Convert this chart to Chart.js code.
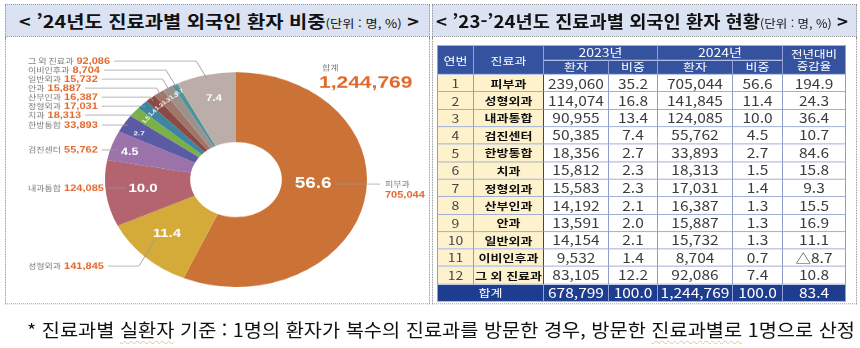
<!DOCTYPE html>
<html lang="ko">
<head>
<meta charset="utf-8">
<script src="https://cdn.jsdelivr.net/npm/chart.js@4.4.1/dist/chart.umd.min.js"></script>
<style>
  html, body { margin: 0; padding: 0; background: #fff; width: 860px; height: 348px; overflow: hidden; }
  #page { position: absolute; left: 0; top: 0; width: 860px; height: 424px; transform: scaleY(0.82); transform-origin: 0 0;
          font-family: "Noto Sans CJK KR", "Noto Sans", sans-serif; color: #111; }
  .hd { position: absolute; top: 5px; height: 40px; background: #dbe3f2; border: 1px dotted #8a8a8a; box-sizing: border-box; overflow: hidden; }
  .hd .t { position: absolute; top: 0; height: 38px; line-height: 38px; white-space: nowrap; transform-origin: 0 50%; }
  .hd b { font-size: 21px; font-weight: 700; }
  .hd span { font-size: 14px; font-weight: 400; }
  .box { position: absolute; top: 45px; height: 326px; border: 1px dotted #8a8a8a; border-top: none; box-sizing: border-box; }
  #chartWrap { position: absolute; left: 0; top: 45px; width: 430px; height: 326px; }
  #tbl { position: absolute; left: 437px; top: 55px; width: 408px; border-collapse: collapse; table-layout: fixed; }
  #tbl td { padding: 0; text-align: center; line-height: 1; border: 1px solid #8e9ecb; color: #3c3c3c; font-size: 15.5px;
            height: 20.3px; white-space: nowrap; overflow: hidden; }
  #tbl tr.h td { background: #35529f; color: #fff; font-size: 13px; height: 16.6px; border-color: #8fa1d6; }
  #tbl td.no { background: #fdf2cc; font-size: 14px; color: #444; }
  #tbl td.dep { background: #fdf2cc; font-size: 13px; font-weight: 700; color: #111; border-right: 1.5px solid #2c4592; }
  #tbl tr.sum td { background: #1f3d8e; color: #fff; border-color: #8fa1d6; }
  #tbl tr.sum td.lab { font-size: 13px; }
  #note { position: absolute; left: 27px; top: 386px; height: 30px; line-height: 30px; font-size: 22px; white-space: nowrap; color: #111; transform-origin: 0 50%; }
  #note u { text-decoration: underline wavy #dcc98c 1px; text-underline-offset: 4px; }
</style>
</head>
<body>
<div id="page">
  <div class="hd" style="left:5px;width:425px"><div class="t" id="titleL"><b>&lt; ’24년도 진료과별 외국인 환자 비중</b><span>(단위 : 명, %)</span><b> &gt;</b></div></div>
  <div class="hd" style="left:432px;width:425px"><div class="t" id="titleR"><b>&lt; ’23-’24년도 진료과별 외국인 환자 현황</b><span>(단위 : 명, %)</span><b> &gt;</b></div></div>
  <div class="box" style="left:5px;width:425px"></div>
  <div class="box" style="left:432px;width:425px"></div>
  <div id="chartWrap"><canvas id="pie" width="430" height="326"></canvas></div>
  <table id="tbl"></table>
  <div id="note">* 진료과별 <u>실환자</u> 기준 : 1명의 환자가 복수의 진료과를 방문한 경우, 방문한 <u>진료과별로</u> 1명으로 산정</div>
</div>
<script>
// Departments and yearly figures
const departments = ['피부과', '성형외과', '내과통합', '검진센터', '한방통합', '치과', '정형외과', '산부인과', '안과', '일반외과', '이비인후과', '그 외 진료과'];
const patients2023 = [239060, 114074, 90955, 50385, 18356, 15812, 15583, 14192, 13591, 14154, 9532, 83105];
const share2023 = [35.2, 16.8, 13.4, 7.4, 2.7, 2.3, 2.3, 2.1, 2.0, 2.1, 1.4, 12.2];
const patients2024 = [705044, 141845, 124085, 55762, 33893, 18313, 17031, 16387, 15887, 15732, 8704, 92086];
const share2024 = [56.6, 11.4, 10.0, 4.5, 2.7, 1.5, 1.4, 1.3, 1.3, 1.3, 0.7, 7.4];
const changeRate = [194.9, 24.3, 36.4, 10.7, 84.6, 15.8, 9.3, 15.5, 16.9, 11.1, -8.7, 10.8];
const totals2023 = [678799, 100.0];
const totals2024 = [1244769, 100.0];
const totalChange = 83.4;

// Slice colours
const sliceColors = ['#cb7237', '#d4ab38', '#b3646f', '#9b72aa', '#5b5aa5', '#7bb046', '#3e85a2', '#8b4a45', '#a0766b', '#9c928b', '#4f939b', '#bbaea8'];

const fmt = n => n.toLocaleString('en-US');
const fmtRate = v => (v < 0 ? '△' + Math.abs(v).toFixed(1) : v.toFixed(1));

// ----- table -----
(function buildTable() {
  const widths = [36, 70, 65, 49, 75, 50, 63];
  let html = '<colgroup>' + widths.map(w => `<col style="width:${w}px">`).join('') + '</colgroup>';
  html += '<tr class="h"><td rowspan="2">연번</td><td rowspan="2">진료과</td><td colspan="2" style="font-size:14px">2023년</td><td colspan="2" style="font-size:14px">2024년</td><td rowspan="2" style="line-height:1.15;font-size:12.5px">전년대비<br>증감율</td></tr>';
  html += '<tr class="h"><td>환자</td><td>비중</td><td>환자</td><td>비중</td></tr>';
  departments.forEach((d, i) => {
    html += `<tr><td class="no">${i + 1}</td><td class="dep">${d}</td><td>${fmt(patients2023[i])}</td><td>${share2023[i].toFixed(1)}</td>` +
            `<td>${fmt(patients2024[i])}</td><td>${share2024[i].toFixed(1)}</td><td>${fmtRate(changeRate[i])}</td></tr>`;
  });
  html += `<tr class="sum"><td colspan="2" class="lab">합계</td><td>${fmt(totals2023[0])}</td><td>${totals2023[1].toFixed(1)}</td>` +
          `<td>${fmt(totals2024[0])}</td><td>${totals2024[1].toFixed(1)}</td><td>${totalChange.toFixed(1)}</td></tr>`;
  document.getElementById('tbl').innerHTML = html;
})();

// ----- fit header titles and footnote to their widths -----
function fitWidth(id, left, width) {
  const el = document.getElementById(id);
  const w = el.getBoundingClientRect().width;
  el.style.left = left + 'px';
  el.style.transform = `scaleX(${width / w})`;
}
fitWidth('titleL', 13, 400);
fitWidth('titleR', 3, 412);
fitWidth('note', 27, 828);

// ----- doughnut labels -----
// position of each value label inside its slice: a = fraction along the angle, f = fraction across the ring
const valueLabelStyle = [
  { a: 0.46, f: 0.37, size: 19 }, { a: 0.56, f: 0.58, size: 15 }, { a: 0.53, f: 0.56, size: 15 },
  { a: 0.43, f: 0.77, size: 12.5 }, { a: 0.37, f: 0.78, size: 8 }, { a: 0.5, f: 0.82, size: 6.5, rot: true },
  { a: 0.5, f: 0.83, size: 6.5, rot: true }, { a: 0.5, f: 0.84, size: 6.5, rot: true }, { a: 0.5, f: 0.85, size: 6.5, rot: true },
  { a: 0.5, f: 0.86, size: 6.5, rot: true }, { a: 0.5, f: 0.88, size: 6, rot: true }, { a: 0.53, f: 0.66, size: 11.5 }
];
// outer label rows (canvas coordinates)
const outerLabelY = [179.4, 279.4, 184.3, 137.9, 107.4, 95.2, 84.3, 73.3, 62.3, 51.3, 40.4, 29.4];
const LABEL_X = 28;
const FONT_KR = '"Noto Sans CJK KR", "Noto Sans", sans-serif';
const FONT_NUM = '"Liberation Sans", Arial, sans-serif';

const sliceLabels = {
  id: 'sliceLabels',
  afterDatasetsDraw(chart) {
    const ctx = chart.ctx;
    const arcs = chart.getDatasetMeta(0).data;
    const valuePos = [];
    arcs.forEach((arc, i) => {
      const p = arc.getProps(['x', 'y', 'startAngle', 'endAngle', 'innerRadius', 'outerRadius'], true);
      const st = valueLabelStyle[i];
      const ang = p.startAngle + (p.endAngle - p.startAngle) * st.a;
      const r = p.innerRadius + (p.outerRadius - p.innerRadius) * st.f;
      const px = p.x + Math.cos(ang) * r, py = p.y + Math.sin(ang) * r;
      const txt = share2024[i].toFixed(1);
      ctx.save();
      ctx.translate(px, py);
      if (st.rot) ctx.rotate(ang + Math.PI / 2);
      ctx.font = `bold ${st.size}px ${FONT_NUM}`;
      ctx.fillStyle = '#ffffff';
      ctx.textAlign = 'center';
      ctx.textBaseline = 'middle';
      ctx.fillText(txt, 0, 0);
      const hw = ctx.measureText(txt).width / 2;
      ctx.restore();
      const mid = (p.startAngle + p.endAngle) / 2;
      valuePos.push({ x: px, y: py, hw, edge: { x: p.x + Math.cos(mid) * (p.outerRadius - 4), y: p.y + Math.sin(mid) * (p.outerRadius - 4) } });
    });

    ctx.save();
    ctx.strokeStyle = '#9a9a9a';
    ctx.lineWidth = 0.9;
    ctx.textBaseline = 'middle';
    ctx.textAlign = 'left';

    // left-hand labels with leader lines
    for (let i = 1; i < departments.length; i++) {
      const ly = outerLabelY[i];
      ctx.font = `9px ${FONT_KR}`;
      ctx.fillStyle = '#7b7b7b';
      ctx.fillText(departments[i], LABEL_X, ly);
      const nx = LABEL_X + ctx.measureText(departments[i]).width + 3;
      ctx.font = `bold 11px ${FONT_NUM}`;
      ctx.fillStyle = '#e0692f';
      ctx.fillText(fmt(patients2024[i]), nx, ly + 0.5);
      const sx = nx + ctx.measureText(fmt(patients2024[i])).width + 4;
      const v = valuePos[i];
      let ex, ey;
      if (i === 2 || i === 3) { ex = v.x - v.hw - 3; ey = ly; }
      else if (i === 1) { ex = v.x - 12; ey = v.y + 8; }
      else { ex = v.edge.x; ey = v.edge.y; }
      const dy = Math.abs(ey - ly);
      const bx = dy < 2 ? ex : ex - dy * 0.5;
      ctx.beginPath();
      ctx.moveTo(sx, ly);
      ctx.lineTo(bx, ly);
      ctx.lineTo(ex, ey);
      ctx.stroke();
    }

    // right-hand label for the largest slice
    const v0 = valuePos[0];
    ctx.beginPath();
    ctx.moveTo(v0.x + v0.hw + 4, outerLabelY[0]);
    ctx.lineTo(380, outerLabelY[0]);
    ctx.stroke();
    ctx.font = `9px ${FONT_KR}`;
    ctx.fillStyle = '#7b7b7b';
    ctx.fillText(departments[0], 385, outerLabelY[0]);
    ctx.font = `bold 11px ${FONT_NUM}`;
    ctx.fillStyle = '#e0692f';
    ctx.fillText(fmt(patients2024[0]), 385, outerLabelY[0] + 14);

    // grand total
    ctx.font = `9px ${FONT_KR}`;
    ctx.fillStyle = '#7b7b7b';
    ctx.fillText('합계', 322, 38);
    ctx.font = `bold 21px ${FONT_NUM}`;
    ctx.fillStyle = '#e0692f';
    ctx.fillText(fmt(totals2024[0]), 319, 56);
    ctx.restore();
  }
};

new Chart(document.getElementById('pie'), {
  type: 'doughnut',
  data: { labels: departments, datasets: [{ data: share2024, backgroundColor: sliceColors, borderWidth: 0 }] },
  options: {
    responsive: false,
    animation: false,
    events: [],
    cutout: '35%',
    layout: { padding: { left: 105, right: 63, top: 43, bottom: 21 } },
    plugins: { legend: { display: false }, tooltip: { enabled: false } }
  },
  plugins: [sliceLabels]
});
</script>
</body>
</html>
